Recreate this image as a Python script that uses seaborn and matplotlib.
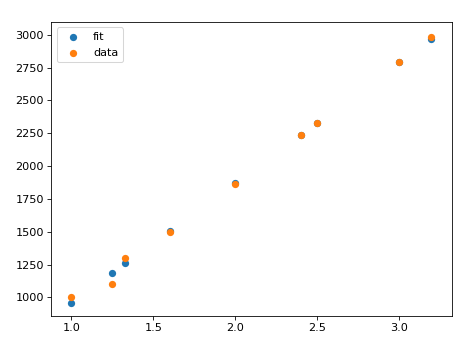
import numpy as np
import pandas as pd
import matplotlib
matplotlib.use("Agg")
import matplotlib.pyplot as plt
import seaborn as sns

# values
x_vals = [1.0, 1.25, 1.33, 1.6, 2.0, 2.4, 2.5, 3.0, 3.2]
fit_vals = [954, 1185, 1258, 1505, 1870, 2240, 2330, 2790, 2970]
data_vals = [1000, 1102, 1303, 1500, 1865, 2235, 2330, 2790, 2980]

df = pd.DataFrame({"x": x_vals, "fit": fit_vals, "data": data_vals})

plt.rcParams["font.size"] = 11

fig = plt.figure(figsize=(474 / 74, 356 / 74), dpi=74)
ax = fig.add_subplot(111)
fig.subplots_adjust(left=0.108, right=0.953, top=0.939, bottom=0.112)

sns.scatterplot(ax=ax, data=df, x="x", y="fit", color="C0", s=50, linewidth=0, label="fit")
sns.scatterplot(ax=ax, data=df, x="x", y="data", color="C1", s=50, linewidth=0, label="data")

ax.set_xlim(0.876, 3.324)
ax.set_ylim(857, 3099)
ax.set_xlabel("")
ax.set_ylabel("")
ax.legend(loc="upper left")

fig.savefig("out.png", dpi=74)
